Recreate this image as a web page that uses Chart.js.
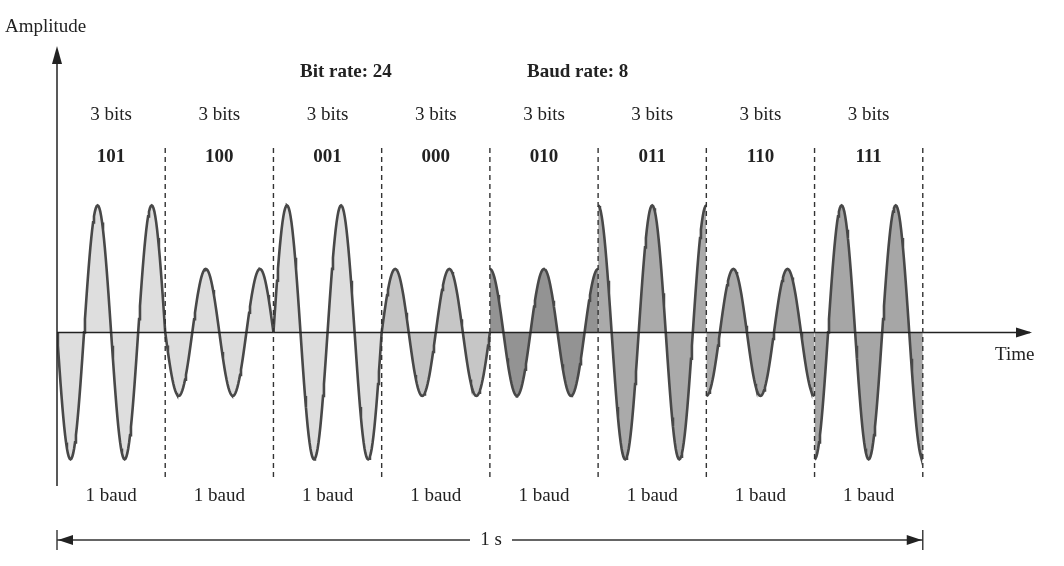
<!DOCTYPE html>
<html>
<head>
<meta charset="utf-8">
<script src="https://cdn.jsdelivr.net/npm/chart.js@4/dist/chart.umd.min.js"></script>
<style>
  html, body { margin: 0; padding: 0; background: #fff; }
  #wrap { width: 1064px; height: 566px; position: relative; }
</style>
</head>
<body>
<div id="wrap"><canvas id="qam"></canvas></div>
<script>
// one entry per baud
const bitGroups = ['101', '100', '001', '000', '010', '011', '110', '111'];
const amplitudes = [1, 0.5, 1, 0.5, 0.5, 1, 0.5, 1];
const phasesDeg = [180, 180, 0, 0, 90, 90, 270, 270];
const fillColors = ['#dedede', '#dedede', '#dedede', '#c6c6c6', '#939393', '#aaaaaa', '#aaaaaa', '#a6a6a6'];
const cyclesPerBaud = 2;
const samplesPerBaud = 120;

// Build one dataset per baud: carrier with that baud's amplitude and phase
const datasets = bitGroups.map((bits, i) => {
    const pts = [];
    for (let k = 0; k <= samplesPerBaud; k++) {
        const t = i + k / samplesPerBaud;
        const ph = phasesDeg[i] * Math.PI / 180;
        pts.push({ x: t, y: amplitudes[i] * Math.sin(2 * Math.PI * cyclesPerBaud * (t - i) + ph) });
    }
    return {
        label: bits,
        data: pts,
        borderColor: '#484848',
        borderWidth: 2.6,
        backgroundColor: fillColors[i],
        fill: 'origin',
        pointRadius: 0,
        tension: 0
    };
});

const serif = '"Liberation Serif", "DejaVu Serif", serif';

// Axes, dashed dividers and all the labels
const decorations = {
    id: 'decorations',
    afterDatasetsDraw(chart) {
        const { ctx, scales: { x, y } } = chart;
        const y0 = y.getPixelForValue(0);
        const x0 = x.getPixelForValue(0);
        ctx.save();
        ctx.strokeStyle = '#222';
        ctx.fillStyle = '#222';
        ctx.lineWidth = 1.5;

        // time axis
        ctx.beginPath();
        ctx.moveTo(x0, y0); ctx.lineTo(1030, y0); ctx.stroke();
        ctx.beginPath();
        ctx.moveTo(1032, y0); ctx.lineTo(1016, y0 - 5); ctx.lineTo(1016, y0 + 5); ctx.closePath(); ctx.fill();
        // amplitude axis
        ctx.beginPath();
        ctx.moveTo(x0, 486); ctx.lineTo(x0, 52); ctx.stroke();
        ctx.beginPath();
        ctx.moveTo(x0, 46); ctx.lineTo(x0 - 5, 64); ctx.lineTo(x0 + 5, 64); ctx.closePath(); ctx.fill();

        // dashed baud boundaries
        ctx.setLineDash([5, 4]);
        ctx.lineWidth = 1.4;
        ctx.strokeStyle = '#333';
        for (let i = 1; i <= bitGroups.length; i++) {
            const px = x.getPixelForValue(i);
            ctx.beginPath(); ctx.moveTo(px, 148); ctx.lineTo(px, 478); ctx.stroke();
        }
        ctx.setLineDash([]);

        // texts
        ctx.textAlign = 'center';
        ctx.textBaseline = 'middle';
        bitGroups.forEach((bits, i) => {
            const cx = x.getPixelForValue(i + 0.5);
            ctx.font = '19px ' + serif;
            ctx.fillText('3 bits', cx, 115);
            ctx.fillText('1 baud', cx, 496);
            ctx.font = 'bold 19px ' + serif;
            ctx.fillText(bits, cx, 157);
        });
        ctx.font = 'bold 19px ' + serif;
        ctx.textAlign = 'left';
        ctx.fillText('Bit rate: 24', 300, 72);
        ctx.fillText('Baud rate: 8', 527, 72);
        ctx.font = '19px ' + serif;
        ctx.fillText('Amplitude', 5, 27);
        ctx.fillText('Time', 995, 355);

        // 1 s span
        const xEnd = x.getPixelForValue(bitGroups.length);
        const ys = 540;
        ctx.lineWidth = 1.4;
        ctx.beginPath();
        ctx.moveTo(x0, ys - 10); ctx.lineTo(x0, ys + 10);
        ctx.moveTo(xEnd, ys - 10); ctx.lineTo(xEnd, ys + 10);
        ctx.moveTo(x0, ys); ctx.lineTo(470, ys);
        ctx.moveTo(512, ys); ctx.lineTo(xEnd, ys);
        ctx.stroke();
        ctx.beginPath();
        ctx.moveTo(x0 + 1, ys); ctx.lineTo(x0 + 16, ys - 5); ctx.lineTo(x0 + 16, ys + 5); ctx.closePath(); ctx.fill();
        ctx.beginPath();
        ctx.moveTo(xEnd - 1, ys); ctx.lineTo(xEnd - 16, ys - 5); ctx.lineTo(xEnd - 16, ys + 5); ctx.closePath(); ctx.fill();
        ctx.textAlign = 'center';
        ctx.fillText('1 s', 491, ys);
        ctx.restore();
    }
};

new Chart(document.getElementById('qam'), {
    type: 'line',
    data: { datasets: datasets },
    options: {
        responsive: true,
        maintainAspectRatio: false,
        animation: false,
        layout: { padding: { left: 57, right: 33, top: 53, bottom: 5 } },
        plugins: { legend: { display: false }, tooltip: { enabled: false } },
        scales: {
            x: { type: 'linear', min: 0, max: 9, display: false },
            y: { min: -1.8, max: 2.2, display: false }
        }
    },
    plugins: [decorations]
});
</script>
</body>
</html>
